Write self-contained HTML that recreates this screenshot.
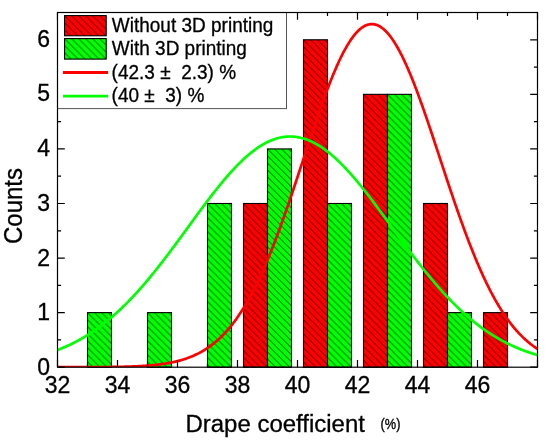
<!DOCTYPE html>
<html><head><meta charset="utf-8"><style>
html,body{margin:0;padding:0;background:#fff;}
svg{display:block;}
text{font-family:"Liberation Sans", Arial, sans-serif;fill:#000;stroke:#000;stroke-width:0.3px;}
</style></head><body>
<svg width="550" height="442" viewBox="0 0 550 442">
<defs>
<pattern id="hatch" patternUnits="userSpaceOnUse" x="0" y="0" width="7" height="7">
<path d="M-9.00 -2 L2.00 9 M-2.00 -2 L9.00 9 M5.00 -2 L16.00 9" stroke="#000" stroke-width="0.7" fill="none"/>
</pattern>
<clipPath id="plot"><rect x="57.5" y="12.5" width="480.0" height="354.7"/></clipPath>
</defs>
<rect width="550" height="442" fill="#fff"/>
<g transform="translate(243.50,203.49)"><rect width="24.00" height="163.71" fill="#ff0000"/><rect width="24.00" height="163.71" fill="url(#hatch)" stroke="#000" stroke-width="1.1"/></g>
<g transform="translate(303.50,39.78)"><rect width="24.00" height="327.42" fill="#ff0000"/><rect width="24.00" height="327.42" fill="url(#hatch)" stroke="#000" stroke-width="1.1"/></g>
<g transform="translate(363.50,94.35)"><rect width="24.00" height="272.85" fill="#ff0000"/><rect width="24.00" height="272.85" fill="url(#hatch)" stroke="#000" stroke-width="1.1"/></g>
<g transform="translate(423.50,203.49)"><rect width="24.00" height="163.71" fill="#ff0000"/><rect width="24.00" height="163.71" fill="url(#hatch)" stroke="#000" stroke-width="1.1"/></g>
<g transform="translate(483.50,312.63)"><rect width="24.00" height="54.57" fill="#ff0000"/><rect width="24.00" height="54.57" fill="url(#hatch)" stroke="#000" stroke-width="1.1"/></g>
<g transform="translate(87.50,312.63)"><rect width="24.00" height="54.57" fill="#00ff00"/><rect width="24.00" height="54.57" fill="url(#hatch)" stroke="#000" stroke-width="1.1"/></g>
<g transform="translate(147.50,312.63)"><rect width="24.00" height="54.57" fill="#00ff00"/><rect width="24.00" height="54.57" fill="url(#hatch)" stroke="#000" stroke-width="1.1"/></g>
<g transform="translate(207.50,203.49)"><rect width="24.00" height="163.71" fill="#00ff00"/><rect width="24.00" height="163.71" fill="url(#hatch)" stroke="#000" stroke-width="1.1"/></g>
<g transform="translate(267.50,148.92)"><rect width="24.00" height="218.28" fill="#00ff00"/><rect width="24.00" height="218.28" fill="url(#hatch)" stroke="#000" stroke-width="1.1"/></g>
<g transform="translate(327.50,203.49)"><rect width="24.00" height="163.71" fill="#00ff00"/><rect width="24.00" height="163.71" fill="url(#hatch)" stroke="#000" stroke-width="1.1"/></g>
<g transform="translate(387.50,94.35)"><rect width="24.00" height="272.85" fill="#00ff00"/><rect width="24.00" height="272.85" fill="url(#hatch)" stroke="#000" stroke-width="1.1"/></g>
<g transform="translate(447.50,312.63)"><rect width="24.00" height="54.57" fill="#00ff00"/><rect width="24.00" height="54.57" fill="url(#hatch)" stroke="#000" stroke-width="1.1"/></g>
<g clip-path="url(#plot)" fill="none" stroke-width="2.7" stroke-linejoin="round">
<path d="M57.50 367.19 L58.50 367.19 L59.50 367.19 L60.50 367.19 L61.50 367.19 L62.50 367.19 L63.50 367.19 L64.50 367.19 L65.50 367.18 L66.50 367.18 L67.50 367.18 L68.50 367.18 L69.50 367.18 L70.50 367.18 L71.50 367.18 L72.50 367.18 L73.50 367.17 L74.50 367.17 L75.50 367.17 L76.50 367.17 L77.50 367.17 L78.50 367.17 L79.50 367.16 L80.50 367.16 L81.50 367.16 L82.50 367.16 L83.50 367.15 L84.50 367.15 L85.50 367.15 L86.50 367.14 L87.50 367.14 L88.50 367.14 L89.50 367.13 L90.50 367.13 L91.50 367.12 L92.50 367.12 L93.50 367.11 L94.50 367.11 L95.50 367.10 L96.50 367.10 L97.50 367.09 L98.50 367.08 L99.50 367.08 L100.50 367.07 L101.50 367.06 L102.50 367.05 L103.50 367.04 L104.50 367.03 L105.50 367.02 L106.50 367.01 L107.50 367.00 L108.50 366.99 L109.50 366.98 L110.50 366.97 L111.50 366.95 L112.50 366.94 L113.50 366.93 L114.50 366.91 L115.50 366.89 L116.50 366.88 L117.50 366.86 L118.50 366.84 L119.50 366.82 L120.50 366.80 L121.50 366.78 L122.50 366.75 L123.50 366.73 L124.50 366.70 L125.50 366.68 L126.50 366.65 L127.50 366.62 L128.50 366.59 L129.50 366.55 L130.50 366.52 L131.50 366.48 L132.50 366.45 L133.50 366.41 L134.50 366.36 L135.50 366.32 L136.50 366.28 L137.50 366.23 L138.50 366.18 L139.50 366.13 L140.50 366.07 L141.50 366.01 L142.50 365.96 L143.50 365.89 L144.50 365.83 L145.50 365.76 L146.50 365.69 L147.50 365.61 L148.50 365.54 L149.50 365.45 L150.50 365.37 L151.50 365.28 L152.50 365.19 L153.50 365.09 L154.50 364.99 L155.50 364.89 L156.50 364.78 L157.50 364.67 L158.50 364.55 L159.50 364.42 L160.50 364.29 L161.50 364.16 L162.50 364.02 L163.50 363.88 L164.50 363.73 L165.50 363.57 L166.50 363.41 L167.50 363.24 L168.50 363.06 L169.50 362.88 L170.50 362.68 L171.50 362.49 L172.50 362.28 L173.50 362.07 L174.50 361.85 L175.50 361.62 L176.50 361.38 L177.50 361.13 L178.50 360.87 L179.50 360.61 L180.50 360.33 L181.50 360.05 L182.50 359.75 L183.50 359.44 L184.50 359.12 L185.50 358.80 L186.50 358.45 L187.50 358.10 L188.50 357.74 L189.50 357.36 L190.50 356.97 L191.50 356.57 L192.50 356.15 L193.50 355.72 L194.50 355.28 L195.50 354.82 L196.50 354.34 L197.50 353.85 L198.50 353.35 L199.50 352.83 L200.50 352.29 L201.50 351.74 L202.50 351.16 L203.50 350.57 L204.50 349.97 L205.50 349.34 L206.50 348.70 L207.50 348.03 L208.50 347.35 L209.50 346.65 L210.50 345.93 L211.50 345.18 L212.50 344.42 L213.50 343.63 L214.50 342.82 L215.50 341.99 L216.50 341.14 L217.50 340.26 L218.50 339.36 L219.50 338.44 L220.50 337.49 L221.50 336.51 L222.50 335.52 L223.50 334.49 L224.50 333.44 L225.50 332.37 L226.50 331.26 L227.50 330.13 L228.50 328.98 L229.50 327.79 L230.50 326.58 L231.50 325.34 L232.50 324.07 L233.50 322.77 L234.50 321.44 L235.50 320.08 L236.50 318.70 L237.50 317.28 L238.50 315.83 L239.50 314.35 L240.50 312.84 L241.50 311.30 L242.50 309.73 L243.50 308.12 L244.50 306.49 L245.50 304.82 L246.50 303.12 L247.50 301.39 L248.50 299.62 L249.50 297.82 L250.50 296.00 L251.50 294.13 L252.50 292.24 L253.50 290.31 L254.50 288.35 L255.50 286.36 L256.50 284.33 L257.50 282.27 L258.50 280.18 L259.50 278.06 L260.50 275.90 L261.50 273.71 L262.50 271.49 L263.50 269.24 L264.50 266.96 L265.50 264.64 L266.50 262.30 L267.50 259.92 L268.50 257.51 L269.50 255.08 L270.50 252.61 L271.50 250.12 L272.50 247.59 L273.50 245.04 L274.50 242.46 L275.50 239.85 L276.50 237.22 L277.50 234.55 L278.50 231.87 L279.50 229.16 L280.50 226.42 L281.50 223.66 L282.50 220.88 L283.50 218.08 L284.50 215.25 L285.50 212.41 L286.50 209.54 L287.50 206.66 L288.50 203.76 L289.50 200.84 L290.50 197.91 L291.50 194.96 L292.50 191.99 L293.50 189.02 L294.50 186.03 L295.50 183.03 L296.50 180.02 L297.50 177.01 L298.50 173.98 L299.50 170.95 L300.50 167.92 L301.50 164.88 L302.50 161.84 L303.50 158.80 L304.50 155.75 L305.50 152.71 L306.50 149.67 L307.50 146.64 L308.50 143.61 L309.50 140.59 L310.50 137.58 L311.50 134.57 L312.50 131.58 L313.50 128.60 L314.50 125.64 L315.50 122.69 L316.50 119.75 L317.50 116.84 L318.50 113.94 L319.50 111.07 L320.50 108.21 L321.50 105.39 L322.50 102.59 L323.50 99.81 L324.50 97.07 L325.50 94.35 L326.50 91.67 L327.50 89.01 L328.50 86.40 L329.50 83.82 L330.50 81.27 L331.50 78.77 L332.50 76.31 L333.50 73.88 L334.50 71.50 L335.50 69.17 L336.50 66.88 L337.50 64.64 L338.50 62.44 L339.50 60.30 L340.50 58.21 L341.50 56.17 L342.50 54.18 L343.50 52.24 L344.50 50.37 L345.50 48.55 L346.50 46.79 L347.50 45.08 L348.50 43.44 L349.50 41.86 L350.50 40.34 L351.50 38.88 L352.50 37.49 L353.50 36.16 L354.50 34.90 L355.50 33.71 L356.50 32.58 L357.50 31.52 L358.50 30.53 L359.50 29.60 L360.50 28.75 L361.50 27.97 L362.50 27.26 L363.50 26.62 L364.50 26.05 L365.50 25.55 L366.50 25.13 L367.50 24.78 L368.50 24.50 L369.50 24.29 L370.50 24.16 L371.50 24.10 L372.50 24.12 L373.50 24.21 L374.50 24.37 L375.50 24.60 L376.50 24.91 L377.50 25.29 L378.50 25.74 L379.50 26.27 L380.50 26.86 L381.50 27.53 L382.50 28.27 L383.50 29.08 L384.50 29.96 L385.50 30.91 L386.50 31.93 L387.50 33.02 L388.50 34.18 L389.50 35.40 L390.50 36.69 L391.50 38.04 L392.50 39.46 L393.50 40.94 L394.50 42.48 L395.50 44.09 L396.50 45.76 L397.50 47.48 L398.50 49.27 L399.50 51.11 L400.50 53.01 L401.50 54.97 L402.50 56.98 L403.50 59.04 L404.50 61.15 L405.50 63.31 L406.50 65.53 L407.50 67.79 L408.50 70.10 L409.50 72.45 L410.50 74.85 L411.50 77.29 L412.50 79.77 L413.50 82.29 L414.50 84.84 L415.50 87.44 L416.50 90.07 L417.50 92.73 L418.50 95.43 L419.50 98.16 L420.50 100.92 L421.50 103.70 L422.50 106.52 L423.50 109.35 L424.50 112.21 L425.50 115.10 L426.50 118.00 L427.50 120.92 L428.50 123.86 L429.50 126.82 L430.50 129.79 L431.50 132.78 L432.50 135.77 L433.50 138.78 L434.50 141.80 L435.50 144.82 L436.50 147.85 L437.50 150.89 L438.50 153.93 L439.50 156.97 L440.50 160.01 L441.50 163.05 L442.50 166.09 L443.50 169.13 L444.50 172.16 L445.50 175.19 L446.50 178.21 L447.50 181.23 L448.50 184.23 L449.50 187.23 L450.50 190.21 L451.50 193.18 L452.50 196.14 L453.50 199.08 L454.50 202.01 L455.50 204.92 L456.50 207.81 L457.50 210.69 L458.50 213.55 L459.50 216.39 L460.50 219.20 L461.50 222.00 L462.50 224.77 L463.50 227.52 L464.50 230.24 L465.50 232.95 L466.50 235.62 L467.50 238.27 L468.50 240.90 L469.50 243.49 L470.50 246.06 L471.50 248.60 L472.50 251.12 L473.50 253.60 L474.50 256.06 L475.50 258.48 L476.50 260.88 L477.50 263.24 L478.50 265.57 L479.50 267.87 L480.50 270.15 L481.50 272.38 L482.50 274.59 L483.50 276.77 L484.50 278.91 L485.50 281.02 L486.50 283.10 L487.50 285.14 L488.50 287.16 L489.50 289.14 L490.50 291.08 L491.50 293.00 L492.50 294.88 L493.50 296.73 L494.50 298.55 L495.50 300.33 L496.50 302.08 L497.50 303.80 L498.50 305.49 L499.50 307.15 L500.50 308.77 L501.50 310.36 L502.50 311.92 L503.50 313.45 L504.50 314.95 L505.50 316.41 L506.50 317.85 L507.50 319.25 L508.50 320.63 L509.50 321.98 L510.50 323.29 L511.50 324.58 L512.50 325.84 L513.50 327.07 L514.50 328.27 L515.50 329.44 L516.50 330.59 L517.50 331.71 L518.50 332.80 L519.50 333.86 L520.50 334.90 L521.50 335.92 L522.50 336.91 L523.50 337.87 L524.50 338.81 L525.50 339.72 L526.50 340.61 L527.50 341.48 L528.50 342.33 L529.50 343.15 L530.50 343.95 L531.50 344.73 L532.50 345.48 L533.50 346.22 L534.50 346.93 L535.50 347.63 L536.50 348.30 L537.50 348.96" stroke="#ff0000"/>
<path d="M57.50 350.03 L58.50 349.64 L59.50 349.25 L60.50 348.85 L61.50 348.44 L62.50 348.02 L63.50 347.60 L64.50 347.17 L65.50 346.73 L66.50 346.28 L67.50 345.83 L68.50 345.37 L69.50 344.90 L70.50 344.43 L71.50 343.94 L72.50 343.45 L73.50 342.95 L74.50 342.44 L75.50 341.92 L76.50 341.40 L77.50 340.86 L78.50 340.32 L79.50 339.77 L80.50 339.21 L81.50 338.64 L82.50 338.07 L83.50 337.48 L84.50 336.89 L85.50 336.28 L86.50 335.67 L87.50 335.05 L88.50 334.42 L89.50 333.78 L90.50 333.13 L91.50 332.47 L92.50 331.81 L93.50 331.13 L94.50 330.44 L95.50 329.75 L96.50 329.04 L97.50 328.33 L98.50 327.60 L99.50 326.87 L100.50 326.13 L101.50 325.38 L102.50 324.61 L103.50 323.84 L104.50 323.06 L105.50 322.27 L106.50 321.46 L107.50 320.65 L108.50 319.83 L109.50 319.00 L110.50 318.16 L111.50 317.31 L112.50 316.45 L113.50 315.58 L114.50 314.70 L115.50 313.80 L116.50 312.90 L117.50 311.99 L118.50 311.07 L119.50 310.14 L120.50 309.20 L121.50 308.25 L122.50 307.29 L123.50 306.32 L124.50 305.35 L125.50 304.36 L126.50 303.36 L127.50 302.35 L128.50 301.33 L129.50 300.31 L130.50 299.27 L131.50 298.22 L132.50 297.17 L133.50 296.10 L134.50 295.03 L135.50 293.94 L136.50 292.85 L137.50 291.75 L138.50 290.64 L139.50 289.52 L140.50 288.39 L141.50 287.26 L142.50 286.11 L143.50 284.96 L144.50 283.79 L145.50 282.62 L146.50 281.45 L147.50 280.26 L148.50 279.06 L149.50 277.86 L150.50 276.65 L151.50 275.43 L152.50 274.21 L153.50 272.98 L154.50 271.74 L155.50 270.49 L156.50 269.24 L157.50 267.97 L158.50 266.71 L159.50 265.43 L160.50 264.15 L161.50 262.87 L162.50 261.58 L163.50 260.28 L164.50 258.98 L165.50 257.67 L166.50 256.36 L167.50 255.04 L168.50 253.72 L169.50 252.39 L170.50 251.06 L171.50 249.72 L172.50 248.38 L173.50 247.04 L174.50 245.69 L175.50 244.34 L176.50 242.98 L177.50 241.63 L178.50 240.27 L179.50 238.91 L180.50 237.54 L181.50 236.18 L182.50 234.81 L183.50 233.44 L184.50 232.07 L185.50 230.70 L186.50 229.33 L187.50 227.96 L188.50 226.59 L189.50 225.22 L190.50 223.84 L191.50 222.47 L192.50 221.10 L193.50 219.74 L194.50 218.37 L195.50 217.00 L196.50 215.64 L197.50 214.28 L198.50 212.92 L199.50 211.57 L200.50 210.21 L201.50 208.87 L202.50 207.52 L203.50 206.18 L204.50 204.84 L205.50 203.51 L206.50 202.18 L207.50 200.86 L208.50 199.55 L209.50 198.24 L210.50 196.93 L211.50 195.63 L212.50 194.34 L213.50 193.06 L214.50 191.78 L215.50 190.51 L216.50 189.25 L217.50 188.00 L218.50 186.75 L219.50 185.52 L220.50 184.29 L221.50 183.07 L222.50 181.87 L223.50 180.67 L224.50 179.48 L225.50 178.31 L226.50 177.14 L227.50 175.99 L228.50 174.84 L229.50 173.71 L230.50 172.59 L231.50 171.49 L232.50 170.39 L233.50 169.31 L234.50 168.24 L235.50 167.19 L236.50 166.15 L237.50 165.12 L238.50 164.11 L239.50 163.11 L240.50 162.13 L241.50 161.16 L242.50 160.21 L243.50 159.27 L244.50 158.35 L245.50 157.44 L246.50 156.55 L247.50 155.68 L248.50 154.83 L249.50 153.99 L250.50 153.17 L251.50 152.36 L252.50 151.58 L253.50 150.81 L254.50 150.06 L255.50 149.33 L256.50 148.61 L257.50 147.92 L258.50 147.24 L259.50 146.59 L260.50 145.95 L261.50 145.33 L262.50 144.73 L263.50 144.16 L264.50 143.60 L265.50 143.06 L266.50 142.54 L267.50 142.05 L268.50 141.57 L269.50 141.11 L270.50 140.68 L271.50 140.26 L272.50 139.87 L273.50 139.50 L274.50 139.15 L275.50 138.82 L276.50 138.51 L277.50 138.23 L278.50 137.96 L279.50 137.72 L280.50 137.50 L281.50 137.30 L282.50 137.12 L283.50 136.97 L284.50 136.84 L285.50 136.72 L286.50 136.64 L287.50 136.57 L288.50 136.52 L289.50 136.50 L290.50 136.50 L291.50 136.52 L292.50 136.57 L293.50 136.64 L294.50 136.72 L295.50 136.84 L296.50 136.97 L297.50 137.12 L298.50 137.30 L299.50 137.50 L300.50 137.72 L301.50 137.96 L302.50 138.23 L303.50 138.51 L304.50 138.82 L305.50 139.15 L306.50 139.50 L307.50 139.87 L308.50 140.26 L309.50 140.68 L310.50 141.11 L311.50 141.57 L312.50 142.05 L313.50 142.54 L314.50 143.06 L315.50 143.60 L316.50 144.16 L317.50 144.73 L318.50 145.33 L319.50 145.95 L320.50 146.59 L321.50 147.24 L322.50 147.92 L323.50 148.61 L324.50 149.33 L325.50 150.06 L326.50 150.81 L327.50 151.58 L328.50 152.36 L329.50 153.17 L330.50 153.99 L331.50 154.83 L332.50 155.68 L333.50 156.55 L334.50 157.44 L335.50 158.35 L336.50 159.27 L337.50 160.21 L338.50 161.16 L339.50 162.13 L340.50 163.11 L341.50 164.11 L342.50 165.12 L343.50 166.15 L344.50 167.19 L345.50 168.24 L346.50 169.31 L347.50 170.39 L348.50 171.49 L349.50 172.59 L350.50 173.71 L351.50 174.84 L352.50 175.99 L353.50 177.14 L354.50 178.31 L355.50 179.48 L356.50 180.67 L357.50 181.87 L358.50 183.07 L359.50 184.29 L360.50 185.52 L361.50 186.75 L362.50 188.00 L363.50 189.25 L364.50 190.51 L365.50 191.78 L366.50 193.06 L367.50 194.34 L368.50 195.63 L369.50 196.93 L370.50 198.24 L371.50 199.55 L372.50 200.86 L373.50 202.18 L374.50 203.51 L375.50 204.84 L376.50 206.18 L377.50 207.52 L378.50 208.87 L379.50 210.21 L380.50 211.57 L381.50 212.92 L382.50 214.28 L383.50 215.64 L384.50 217.00 L385.50 218.37 L386.50 219.74 L387.50 221.10 L388.50 222.47 L389.50 223.84 L390.50 225.22 L391.50 226.59 L392.50 227.96 L393.50 229.33 L394.50 230.70 L395.50 232.07 L396.50 233.44 L397.50 234.81 L398.50 236.18 L399.50 237.54 L400.50 238.91 L401.50 240.27 L402.50 241.63 L403.50 242.98 L404.50 244.34 L405.50 245.69 L406.50 247.04 L407.50 248.38 L408.50 249.72 L409.50 251.06 L410.50 252.39 L411.50 253.72 L412.50 255.04 L413.50 256.36 L414.50 257.67 L415.50 258.98 L416.50 260.28 L417.50 261.58 L418.50 262.87 L419.50 264.15 L420.50 265.43 L421.50 266.71 L422.50 267.97 L423.50 269.24 L424.50 270.49 L425.50 271.74 L426.50 272.98 L427.50 274.21 L428.50 275.43 L429.50 276.65 L430.50 277.86 L431.50 279.06 L432.50 280.26 L433.50 281.45 L434.50 282.62 L435.50 283.79 L436.50 284.96 L437.50 286.11 L438.50 287.26 L439.50 288.39 L440.50 289.52 L441.50 290.64 L442.50 291.75 L443.50 292.85 L444.50 293.94 L445.50 295.03 L446.50 296.10 L447.50 297.17 L448.50 298.22 L449.50 299.27 L450.50 300.31 L451.50 301.33 L452.50 302.35 L453.50 303.36 L454.50 304.36 L455.50 305.35 L456.50 306.32 L457.50 307.29 L458.50 308.25 L459.50 309.20 L460.50 310.14 L461.50 311.07 L462.50 311.99 L463.50 312.90 L464.50 313.80 L465.50 314.70 L466.50 315.58 L467.50 316.45 L468.50 317.31 L469.50 318.16 L470.50 319.00 L471.50 319.83 L472.50 320.65 L473.50 321.46 L474.50 322.27 L475.50 323.06 L476.50 323.84 L477.50 324.61 L478.50 325.38 L479.50 326.13 L480.50 326.87 L481.50 327.60 L482.50 328.33 L483.50 329.04 L484.50 329.75 L485.50 330.44 L486.50 331.13 L487.50 331.81 L488.50 332.47 L489.50 333.13 L490.50 333.78 L491.50 334.42 L492.50 335.05 L493.50 335.67 L494.50 336.28 L495.50 336.89 L496.50 337.48 L497.50 338.07 L498.50 338.64 L499.50 339.21 L500.50 339.77 L501.50 340.32 L502.50 340.86 L503.50 341.40 L504.50 341.92 L505.50 342.44 L506.50 342.95 L507.50 343.45 L508.50 343.94 L509.50 344.43 L510.50 344.90 L511.50 345.37 L512.50 345.83 L513.50 346.28 L514.50 346.73 L515.50 347.17 L516.50 347.60 L517.50 348.02 L518.50 348.44 L519.50 348.85 L520.50 349.25 L521.50 349.64 L522.50 350.03 L523.50 350.41 L524.50 350.78 L525.50 351.15 L526.50 351.51 L527.50 351.86 L528.50 352.21 L529.50 352.55 L530.50 352.88 L531.50 353.21 L532.50 353.53 L533.50 353.85 L534.50 354.16 L535.50 354.46 L536.50 354.76 L537.50 355.05" stroke="#00ff00"/>
</g>
<path d="M57.50 367.2 V359.90 M57.50 12.5 V19.80 M87.50 367.2 V363.60 M87.50 12.5 V16.10 M117.50 367.2 V359.90 M117.50 12.5 V19.80 M147.50 367.2 V363.60 M147.50 12.5 V16.10 M177.50 367.2 V359.90 M177.50 12.5 V19.80 M207.50 367.2 V363.60 M207.50 12.5 V16.10 M237.50 367.2 V359.90 M237.50 12.5 V19.80 M267.50 367.2 V363.60 M267.50 12.5 V16.10 M297.50 367.2 V359.90 M297.50 12.5 V19.80 M327.50 367.2 V363.60 M327.50 12.5 V16.10 M357.50 367.2 V359.90 M357.50 12.5 V19.80 M387.50 367.2 V363.60 M387.50 12.5 V16.10 M417.50 367.2 V359.90 M417.50 12.5 V19.80 M447.50 367.2 V363.60 M447.50 12.5 V16.10 M477.50 367.2 V359.90 M477.50 12.5 V19.80 M507.50 367.2 V363.60 M507.50 12.5 V16.10 M537.50 367.2 V359.90 M537.50 12.5 V19.80 M57.5 367.20 H64.80 M537.5 367.20 H530.20 M57.5 339.92 H61.10 M537.5 339.92 H533.90 M57.5 312.63 H64.80 M537.5 312.63 H530.20 M57.5 285.35 H61.10 M537.5 285.35 H533.90 M57.5 258.06 H64.80 M537.5 258.06 H530.20 M57.5 230.78 H61.10 M537.5 230.78 H533.90 M57.5 203.49 H64.80 M537.5 203.49 H530.20 M57.5 176.21 H61.10 M537.5 176.21 H533.90 M57.5 148.92 H64.80 M537.5 148.92 H530.20 M57.5 121.64 H61.10 M537.5 121.64 H533.90 M57.5 94.35 H64.80 M537.5 94.35 H530.20 M57.5 67.07 H61.10 M537.5 67.07 H533.90 M57.5 39.78 H64.80 M537.5 39.78 H530.20 M57.5 12.50 H61.10 M537.5 12.50 H533.90" stroke="#000" stroke-width="1.2" fill="none"/>
<!-- legend -->
<rect x="57.5" y="12.5" width="229.00" height="96.10" fill="#fff" stroke="#555" stroke-width="1"/>
<g transform="translate(64.55,15.60)"><rect width="41.65" height="20.15" fill="#ff0000"/><rect width="41.65" height="20.15" fill="url(#hatch)" stroke="#000" stroke-width="1.1"/></g>
<g transform="translate(64.55,38.60)"><rect width="41.65" height="20.50" fill="#00ff00"/><rect width="41.65" height="20.50" fill="url(#hatch)" stroke="#000" stroke-width="1.1"/></g>
<path d="M62.9 72.5 H108.1" stroke="#ff0000" stroke-width="2.8"/>
<path d="M62.9 96.1 H108.1" stroke="#00ff00" stroke-width="2.8"/>
<g font-size="19">
<text transform="translate(111.8,31.9) scale(1,1.035)">Without 3D printing</text>
<text transform="translate(111.8,55.1) scale(1,1.035)">With 3D printing</text>
<text transform="translate(111.6,78.9) scale(1,1.035)" xml:space="preserve">(42.3 ±  2.3) %</text>
<text transform="translate(111.6,102.2) scale(1,1.035)" xml:space="preserve">(40 ±  3) %</text>
</g>
<!-- axes frame -->
<rect x="57.5" y="12.5" width="480.0" height="354.7" fill="none" stroke="#000" stroke-width="1.2"/>
<g font-size="23">
<text x="57.50" y="392.6" text-anchor="middle">32</text>
<text x="117.50" y="392.6" text-anchor="middle">34</text>
<text x="177.50" y="392.6" text-anchor="middle">36</text>
<text x="237.50" y="392.6" text-anchor="middle">38</text>
<text x="297.50" y="392.6" text-anchor="middle">40</text>
<text x="357.50" y="392.6" text-anchor="middle">42</text>
<text x="417.50" y="392.6" text-anchor="middle">44</text>
<text x="477.50" y="392.6" text-anchor="middle">46</text>
<text x="50.1" y="375.08" text-anchor="end">0</text>
<text x="50.1" y="320.33" text-anchor="end">1</text>
<text x="50.1" y="265.58" text-anchor="end">2</text>
<text x="50.1" y="210.83" text-anchor="end">3</text>
<text x="50.1" y="156.08" text-anchor="end">4</text>
<text x="50.1" y="101.33" text-anchor="end">5</text>
<text x="50.1" y="46.58" text-anchor="end">6</text>
</g>
<text font-size="24" transform="translate(21.9,206) rotate(-90) scale(1,1.05)" text-anchor="middle">Counts</text>
<text font-size="24" transform="translate(185.4,431.8) scale(1,1.035)">Drape coefficient</text>
<text font-size="12.8" transform="translate(380.6,428.9) scale(1,1.15)">(%)</text>
</svg>
</body></html>
